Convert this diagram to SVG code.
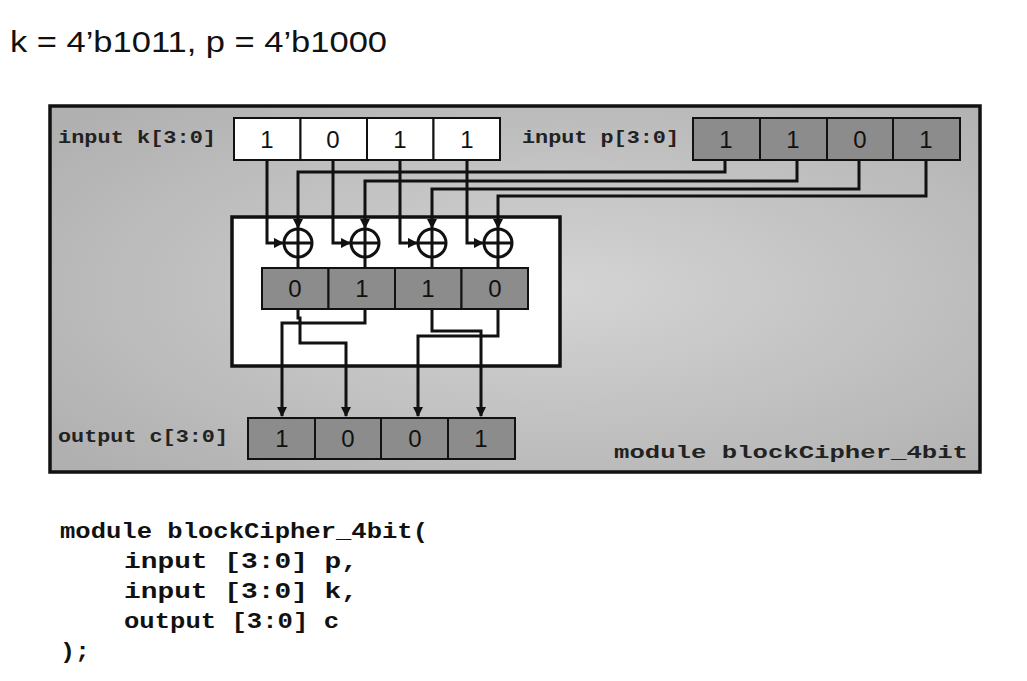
<svg xmlns="http://www.w3.org/2000/svg" width="1027" height="681" viewBox="0 0 1027 681">
<style>
.lbl{font-family:"Liberation Mono",monospace;font-weight:bold;font-size:19px;fill:#222}
.code{font-family:"Liberation Mono",monospace;font-weight:bold;font-size:22px;fill:#111}
.dig{font-family:"Liberation Sans",Arial,sans-serif;font-size:24px;fill:#111;text-anchor:middle}
.cellw{fill:#fff;stroke:#111;stroke-width:2}
.cellg{fill:#8c8c8c;stroke:#111;stroke-width:2}
.w{fill:none;stroke:#111;stroke-width:3}
</style>
<defs>
<radialGradient id="bg" cx="0.55" cy="0.5" r="0.7"><stop offset="0" stop-color="#d4d4d4"/><stop offset="1" stop-color="#b0b0b0"/></radialGradient>
<marker id="ar" viewBox="0 0 10 10" refX="9" refY="5" markerWidth="3.5" markerHeight="3.5" orient="auto"><path d="M0 0L10 5L0 10z" fill="#111"/></marker>
</defs>
<rect width="1027" height="681" fill="#fff"/>
<text x="10" y="52" font-family="Liberation Sans,Arial,sans-serif" font-size="30" fill="#111" textLength="377" lengthAdjust="spacingAndGlyphs">k = 4’b1011, p = 4’b1000</text>
<g id="module">
<rect x="50" y="106" width="930" height="366" fill="url(#bg)" stroke="#111" stroke-width="3.5"/>
<text class="lbl" x="614" y="458" textLength="354" lengthAdjust="spacingAndGlyphs">module blockCipher_4bit</text>
</g>
<g id="inner"><rect x="232" y="217" width="328" height="149" fill="#fff" stroke="#111" stroke-width="3.5"/></g>
<g id="k">
<text class="lbl" x="58" y="143" textLength="158" lengthAdjust="spacingAndGlyphs">input k[3:0]</text>
<rect class="cellw" x="234" y="118" width="66.5" height="42"/><rect class="cellw" x="300.5" y="118" width="66.5" height="42"/><rect class="cellw" x="367" y="118" width="66.5" height="42"/><rect class="cellw" x="433.5" y="118" width="66.5" height="42"/>
<text class="dig" x="267" y="148">1</text><text class="dig" x="333" y="148">0</text><text class="dig" x="400" y="148">1</text><text class="dig" x="467" y="148">1</text>
</g>
<g id="p">
<text class="lbl" x="522" y="143" textLength="157" lengthAdjust="spacingAndGlyphs">input p[3:0]</text>
<rect class="cellg" x="693" y="118" width="67" height="42"/><rect class="cellg" x="760" y="118" width="67" height="42"/><rect class="cellg" x="827" y="118" width="66" height="42"/><rect class="cellg" x="893" y="118" width="67" height="42"/>
<text class="dig" x="726" y="148">1</text><text class="dig" x="793" y="148">1</text><text class="dig" x="860" y="148">0</text><text class="dig" x="926" y="148">1</text>
</g>
<g id="mid">
<rect class="cellg" x="262" y="268" width="66.5" height="41"/><rect class="cellg" x="328.5" y="268" width="66.5" height="41"/><rect class="cellg" x="395" y="268" width="66.5" height="41"/><rect class="cellg" x="461.5" y="268" width="66.5" height="41"/>
<text class="dig" x="295" y="297">0</text><text class="dig" x="362" y="297">1</text><text class="dig" x="428" y="297">1</text><text class="dig" x="495" y="297">0</text>
</g>
<g id="c">
<text class="lbl" x="58" y="442" textLength="170" lengthAdjust="spacingAndGlyphs">output c[3:0]</text>
<rect class="cellg" x="248" y="418" width="67" height="41"/><rect class="cellg" x="315" y="418" width="66" height="41"/><rect class="cellg" x="381" y="418" width="67" height="41"/><rect class="cellg" x="448" y="418" width="67" height="41"/>
<text class="dig" x="282" y="447">1</text><text class="dig" x="348" y="447">0</text><text class="dig" x="415" y="447">0</text><text class="dig" x="481" y="447">1</text>
</g>
<g id="xors" fill="none" stroke="#111" stroke-width="3">
<circle cx="298" cy="243" r="14"/><path d="M284 243H312M298 229V257"/>
<circle cx="365" cy="243" r="14"/><path d="M351 243H379M365 229V257"/>
<circle cx="432" cy="243" r="14"/><path d="M418 243H446M432 229V257"/>
<circle cx="498" cy="243" r="14"/><path d="M484 243H512M498 229V257"/>
</g>
<g id="connectors">
<path class="w" d="M267 160V243H283" marker-end="url(#ar)"/>
<path class="w" d="M333 160V243H350" marker-end="url(#ar)"/>
<path class="w" d="M400 160V243H417" marker-end="url(#ar)"/>
<path class="w" d="M467 160V243H483" marker-end="url(#ar)"/>
<path class="w" d="M725 160V172H298V228" marker-end="url(#ar)"/>
<path class="w" d="M797 160V181H365V228" marker-end="url(#ar)"/>
<path class="w" d="M859 160V189H432V228" marker-end="url(#ar)"/>
<path class="w" d="M926 160V196H498V228" marker-end="url(#ar)"/>
<path class="w" d="M298 257V268M365 257V268M432 257V268M498 257V268"/>
<path class="w" d="M298 309V318H300V343H346V416" marker-end="url(#ar)"/>
<path class="w" d="M365 309V323H282V416" marker-end="url(#ar)"/>
<path class="w" d="M432 309V331H481V416" marker-end="url(#ar)"/>
<path class="w" d="M498 309V336H418V416" marker-end="url(#ar)"/>
</g>
<g id="code">
<text class="code" x="60" y="538" textLength="368" lengthAdjust="spacingAndGlyphs">module blockCipher_4bit(</text>
<text class="code" x="124" y="568" textLength="234" lengthAdjust="spacingAndGlyphs">input [3:0] p,</text>
<text class="code" x="124" y="598" textLength="234" lengthAdjust="spacingAndGlyphs">input [3:0] k,</text>
<text class="code" x="124" y="628" textLength="215" lengthAdjust="spacingAndGlyphs">output [3:0] c</text>
<text class="code" x="60" y="658" textLength="30" lengthAdjust="spacingAndGlyphs">);</text>
</g>
</svg>
